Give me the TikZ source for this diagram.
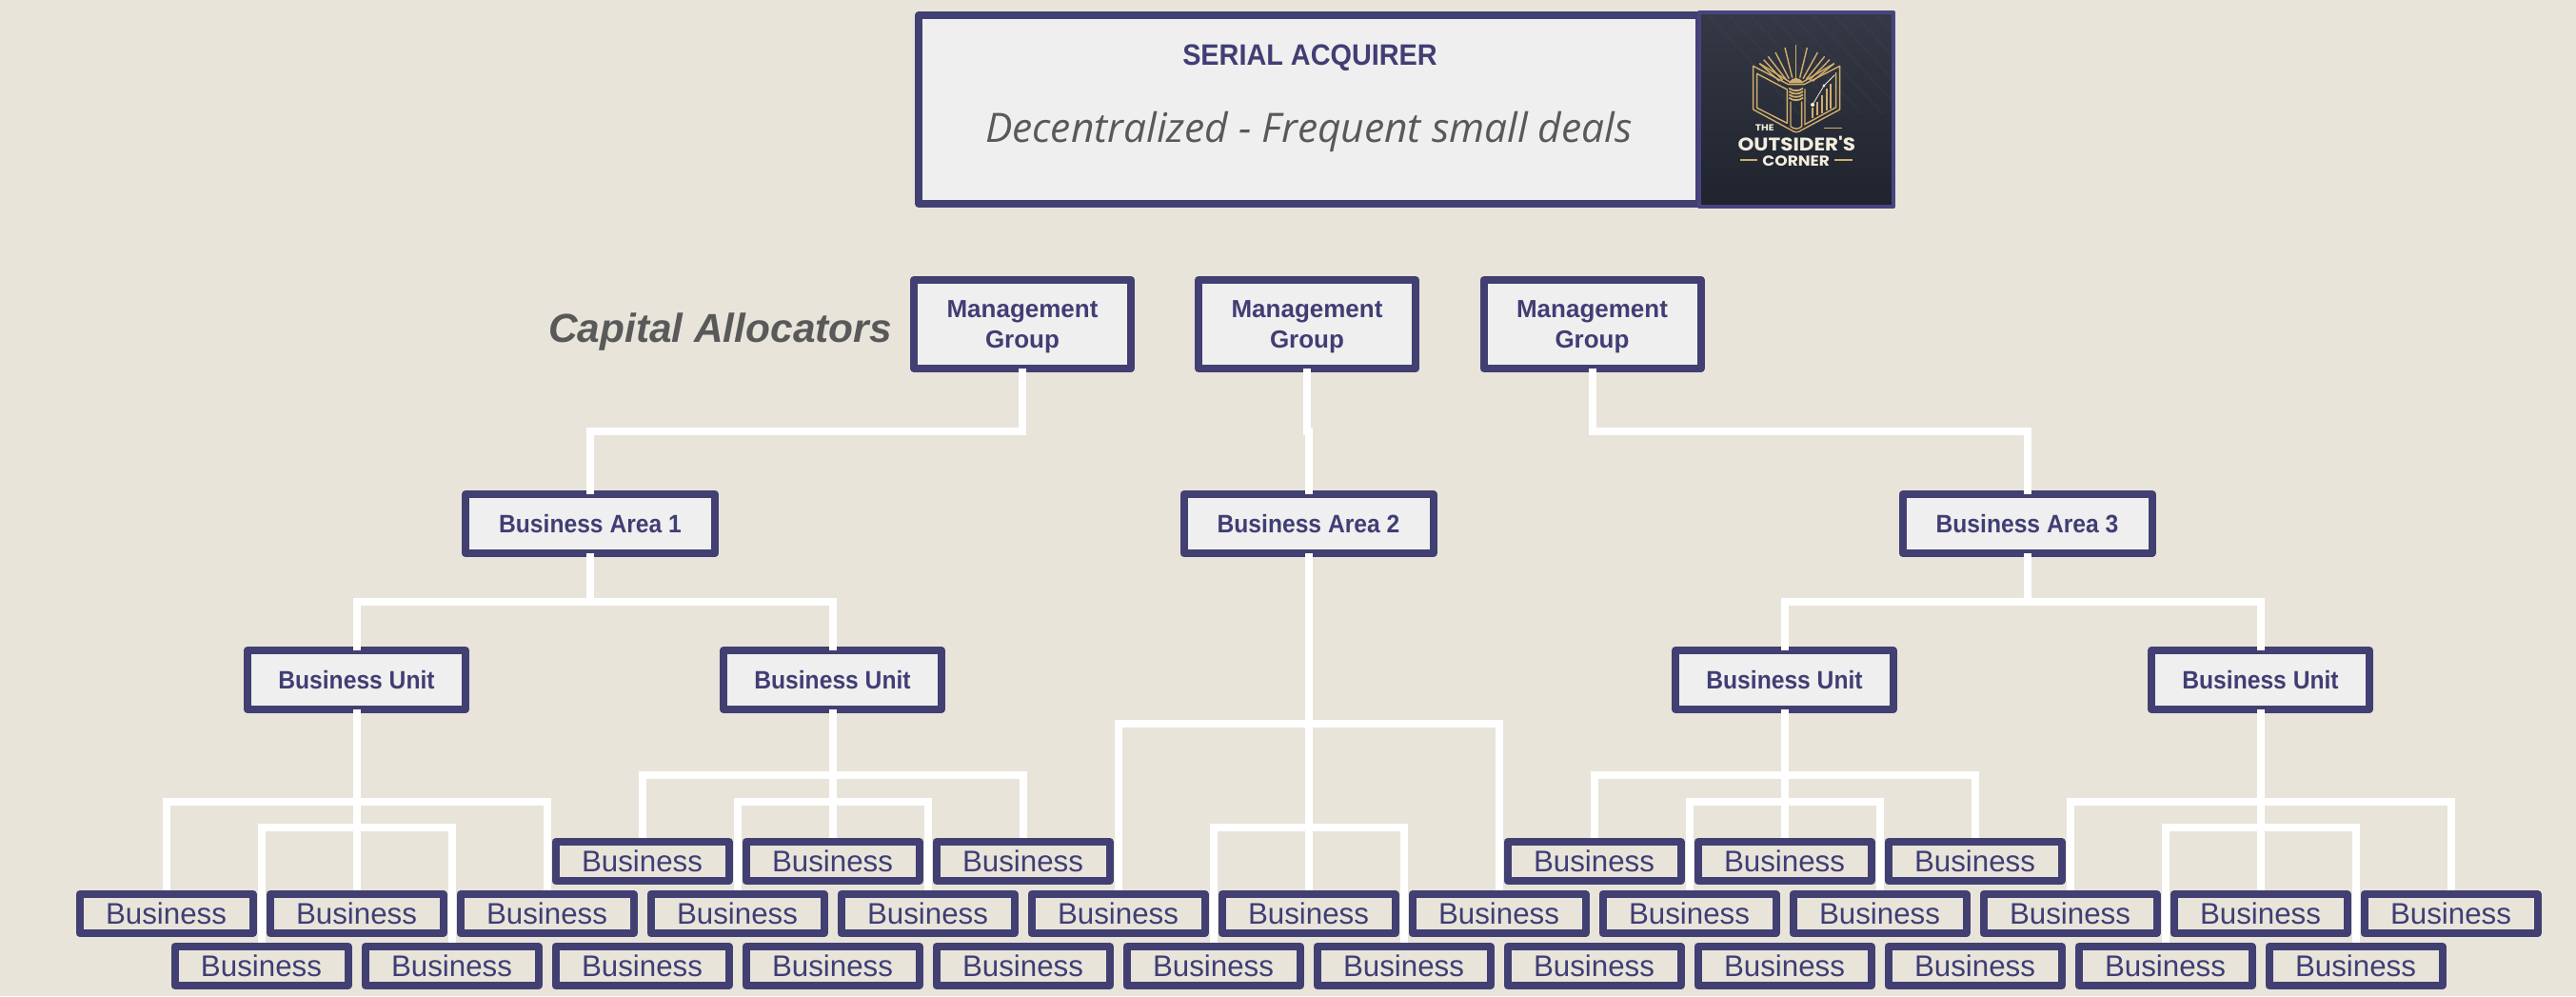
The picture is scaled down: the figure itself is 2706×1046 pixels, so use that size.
\documentclass[tikz,border=0pt]{standalone}
\usepackage{fontspec}
\setmainfont{Liberation Sans}
\newfontfamily\narrowbold[FakeStretch=0.93]{Liberation Sans}
\newfontfamily\osans{Open Sans}
\newfontfamily\logofont[FakeStretch=1.12]{Poppins}
\usetikzlibrary{backgrounds}
\pgfdeclarelayer{upper}
\pgfdeclarelayer{lines}
\pgfsetlayers{upper,lines,main}
\definecolor{pagebg}{HTML}{E8E4DA}
\definecolor{edgeblue}{HTML}{423F73}
\definecolor{logoedge}{HTML}{484480}
\definecolor{boxfill}{HTML}{EFEFEF}
\definecolor{navytext}{HTML}{403E74}
\definecolor{greytext}{HTML}{595959}
\definecolor{gold}{HTML}{D2AE6C}
\definecolor{cream}{HTML}{F2EDDC}
\definecolor{logotop}{HTML}{343945}
\definecolor{logobot}{HTML}{1E232E}
\tikzset{
  box/.style={draw=edgeblue,line width=4pt,line join=round,outer sep=0pt,inner sep=0pt,anchor=center},
  mgmtbox/.style={box,fill=boxfill,minimum width=114pt,minimum height=46.5pt,text=navytext,
    align=center,text depth=-2pt,font=\fontsize{13pt}{16pt}\selectfont\bfseries},
  midbox/.style={box,fill=boxfill,minimum height=31pt,text=navytext,text height=9.5pt,text depth=0pt,
    font=\narrowbold\fontsize{13.25pt}{16pt}\selectfont\bfseries},
  areabox/.style={midbox,minimum width=131pt},
  unitbox/.style={midbox,minimum width=114.5pt},
  bizbox/.style={box,fill=pagebg,minimum width=91pt,minimum height=20.5pt,text=navytext,
    text height=11.2pt,text depth=0pt,font=\fontsize{15.65pt}{18pt}\selectfont},
  conn/.style={draw=white,line width=4pt,line cap=butt,line join=miter},
  goldline/.style={draw=gold,line width=0.7pt},
}
\begin{document}
\begin{tikzpicture}[x=0.5pt,y=-0.5pt]
\useasboundingbox (0,0) rectangle (2706,1046);
\begin{pgfonlayer}{upper}
\fill[pagebg] (0,0) rectangle (2706,1046);
% title
\node[box,fill=boxfill,minimum width=410pt,minimum height=99pt] (titlebox) at (1375,115) {};
\node[inner sep=0pt,anchor=base,text=navytext,font=\narrowbold\fontsize{15.5pt}{18pt}\selectfont\bfseries] (titlehead) at (1376,68) {SERIAL ACQUIRER};
\node[inner sep=0pt,anchor=base,text=greytext,font=\osans\fontsize{21.26pt}{25pt}\selectfont\itshape] (titlesub) at (1375,149) {Decentralized - Frequent small deals};
% logo
\shade[top color=logotop,bottom color=logobot] (1785,13) rectangle (1989,217);
\begin{scope}
\clip (1785,13) rectangle (1989,217);
\foreach \k in {0,...,16} {
  \draw[white,opacity=0.02,line width=1.2pt] ({1780+\k*22},0) -- ({1780+\k*22+110},120);
}
\end{scope}
\node[draw=logoedge,line width=2pt,line join=round,minimum width=102pt,minimum height=102pt,outer sep=0pt,inner sep=0pt] (logobox) at (1887,115) {};
\begin{scope}[shift={(1780,0)},x=0.16667pt,y=-0.16667pt]
  % rays
  \foreach \tx/\ty/\bx/\by in {320/142/320/245,285/150/308/245,355/150/332/245,255/165/298/248,388/165/342/248,232/178/288/250,410/178/352/250,218/188/278/253,426/188/362/253,205/200/268/256,440/200/372/256}{
    \draw[goldline] (\tx,\ty) -- (\bx,\by);
  }
  \fill[gold] (296,262) .. controls (310,240) and (330,240) .. (344,262) -- cycle;
  % covers
  \draw[goldline,line join=round] (185,208) -- (185,345) -- (305,410) .. controls (315,418) and (327,418) .. (337,410) -- (458,345) -- (458,208) -- (345,266) -- (296,266) -- cycle;
  \draw[goldline,line join=round] (197,232) -- (197,340) -- (292,388) -- (292,282) -- cycle;
  \draw[goldline,line join=round] (205,200) -- (300,258);
  \draw[goldline,line join=round] (440,200) -- (342,258);
  \draw[goldline] (303,320) -- (303,398) .. controls (312,408) and (330,408) .. (338,398) -- (338,320);
  \draw[goldline] (348,280) -- (348,392) -- (446,338) -- (446,228);
  % spine waves
  \foreach \wy in {278,288,298,308}{
    \draw[goldline,line width=0.9pt] (298,\wy) .. controls (310,\wy+10) and (330,\wy+10) .. (342,\wy);
  }
  % chart
  \foreach \cx/\ctop/\cbot in {372/340/372,388/320/364,403/300/356,417/280/348,430/264/342}{
    \draw[goldline,line width=0.9pt] (\cx,\ctop) -- (\cx,\cbot);
  }
  \draw[draw=cream,line width=0.4pt] (372,330) -- (408,270) -- (442,236);
  \fill[cream] (372,330) circle[radius=6];
  \fill[cream] (408,270) circle[radius=5];
  % lettering
  \node[inner sep=0pt,text=cream,font=\logofont\fontsize{4.7pt}{5pt}\selectfont\bfseries] (logothe) at (221,402) {THE};
  \draw[goldline] (408,404) -- (466,404);
  \node[inner sep=0pt,text=cream,font=\logofont\fontsize{9.6pt}{11pt}\selectfont\bfseries] (logoname) at (322,453) {OUTSIDER'S};
  \node[inner sep=0pt,text=cream,font=\logofont\fontsize{7.6pt}{9pt}\selectfont\bfseries] (logocorner) at (320,508) {CORNER};
  \draw[goldline] (145,504) -- (198,504);
  \draw[goldline] (442,504) -- (498,504);
\end{scope}
% caption
\node[inner sep=0pt,anchor=base,text=greytext,font=\fontsize{21.2pt}{25pt}\selectfont\bfseries\itshape] (capalloc) at (756.5,359) {Capital Allocators};
% management
\node[mgmtbox] (g1) at (1074,340.5) {Management\\Group};
\node[mgmtbox] (g2) at (1373,340.5) {Management\\Group};
\node[mgmtbox] (g3) at (1672.5,340.5) {Management\\Group};
% areas
\node[areabox] (a1) at (620,550) {Business Area 1};
\node[areabox] (a2) at (1374.5,550) {Business Area 2};
\node[areabox] (a3) at (2129.5,550) {Business Area 3};
% units
\node[unitbox] (u1) at (374.5,714) {Business Unit};
\node[unitbox] (u2) at (874.5,714) {Business Unit};
\node[unitbox] (u3) at (1874.5,714) {Business Unit};
\node[unitbox] (u4) at (2374.5,714) {Business Unit};
\end{pgfonlayer}
% business rows
\foreach \i/\px in {0/674.5,1/874.5,2/1074.5,3/1674.5,4/1874.5,5/2074.5}{
  \node[bizbox] (t\i) at (\px,904.5) {Business};
}
\foreach \i in {0,...,12}{
  \node[bizbox] (m\i) at ({174.5+200*\i},959.5) {Business};
}
\foreach \i in {0,...,11}{
  \node[bizbox,text height=10.5pt] (b\i) at ({274.5+200*\i},1014.5) {Business};
}
% connectors
\begin{pgfonlayer}{lines}
% management to areas
\draw[conn] (g1.south) -- (g1.south |- 0,453) -- (a1.north |- 0,453) -- (a1.north);
\draw[conn] (g2.south) -- (g2.south |- 0,457);
\draw[conn] (a2.north |- 0,449) -- (a2.north);
\draw[conn] (g3.south) -- (g3.south |- 0,453) -- (a3.north |- 0,453) -- (a3.north);
% areas to units
\draw[conn] (a1.south) -- (a1.south |- 0,636);
\draw[conn] (u1.north) -- (u1.north |- 0,632) -- (u2.north |- 0,632) -- (u2.north);
\draw[conn] (a3.south) -- (a3.south |- 0,636);
\draw[conn] (u3.north) -- (u3.north |- 0,632) -- (u4.north |- 0,632) -- (u4.north);
% unit 1
\draw[conn] (u1.south) -- (m1.north);
\draw[conn] (m0.north) -- (m0.north |- 0,842) -- (m2.north |- 0,842) -- (m2.north);
\draw[conn] (b0.north) -- (b0.north |- 0,869) -- (b1.north |- 0,869) -- (b1.north);
% unit 2
\draw[conn] (u2.south) -- (t1.north);
\draw[conn] (t0.north) -- (t0.north |- 0,814) -- (t2.north |- 0,814) -- (t2.north);
\draw[conn] (m3.north) -- (m3.north |- 0,842) -- (m4.north |- 0,842) -- (m4.north);
% area 2
\draw[conn] (a2.south) -- (m6.north);
\draw[conn] (m5.north) -- (m5.north |- 0,760) -- (m7.north |- 0,760) -- (m7.north);
\draw[conn] (b5.north) -- (b5.north |- 0,869) -- (b6.north |- 0,869) -- (b6.north);
% unit 3
\draw[conn] (u3.south) -- (t4.north);
\draw[conn] (t3.north) -- (t3.north |- 0,814) -- (t5.north |- 0,814) -- (t5.north);
\draw[conn] (m8.north) -- (m8.north |- 0,842) -- (m9.north |- 0,842) -- (m9.north);
% unit 4
\draw[conn] (u4.south) -- (m11.north);
\draw[conn] (m10.north) -- (m10.north |- 0,842) -- (m12.north |- 0,842) -- (m12.north);
\draw[conn] (b10.north) -- (b10.north |- 0,869) -- (b11.north |- 0,869) -- (b11.north);
\end{pgfonlayer}
\end{tikzpicture}
\end{document}
